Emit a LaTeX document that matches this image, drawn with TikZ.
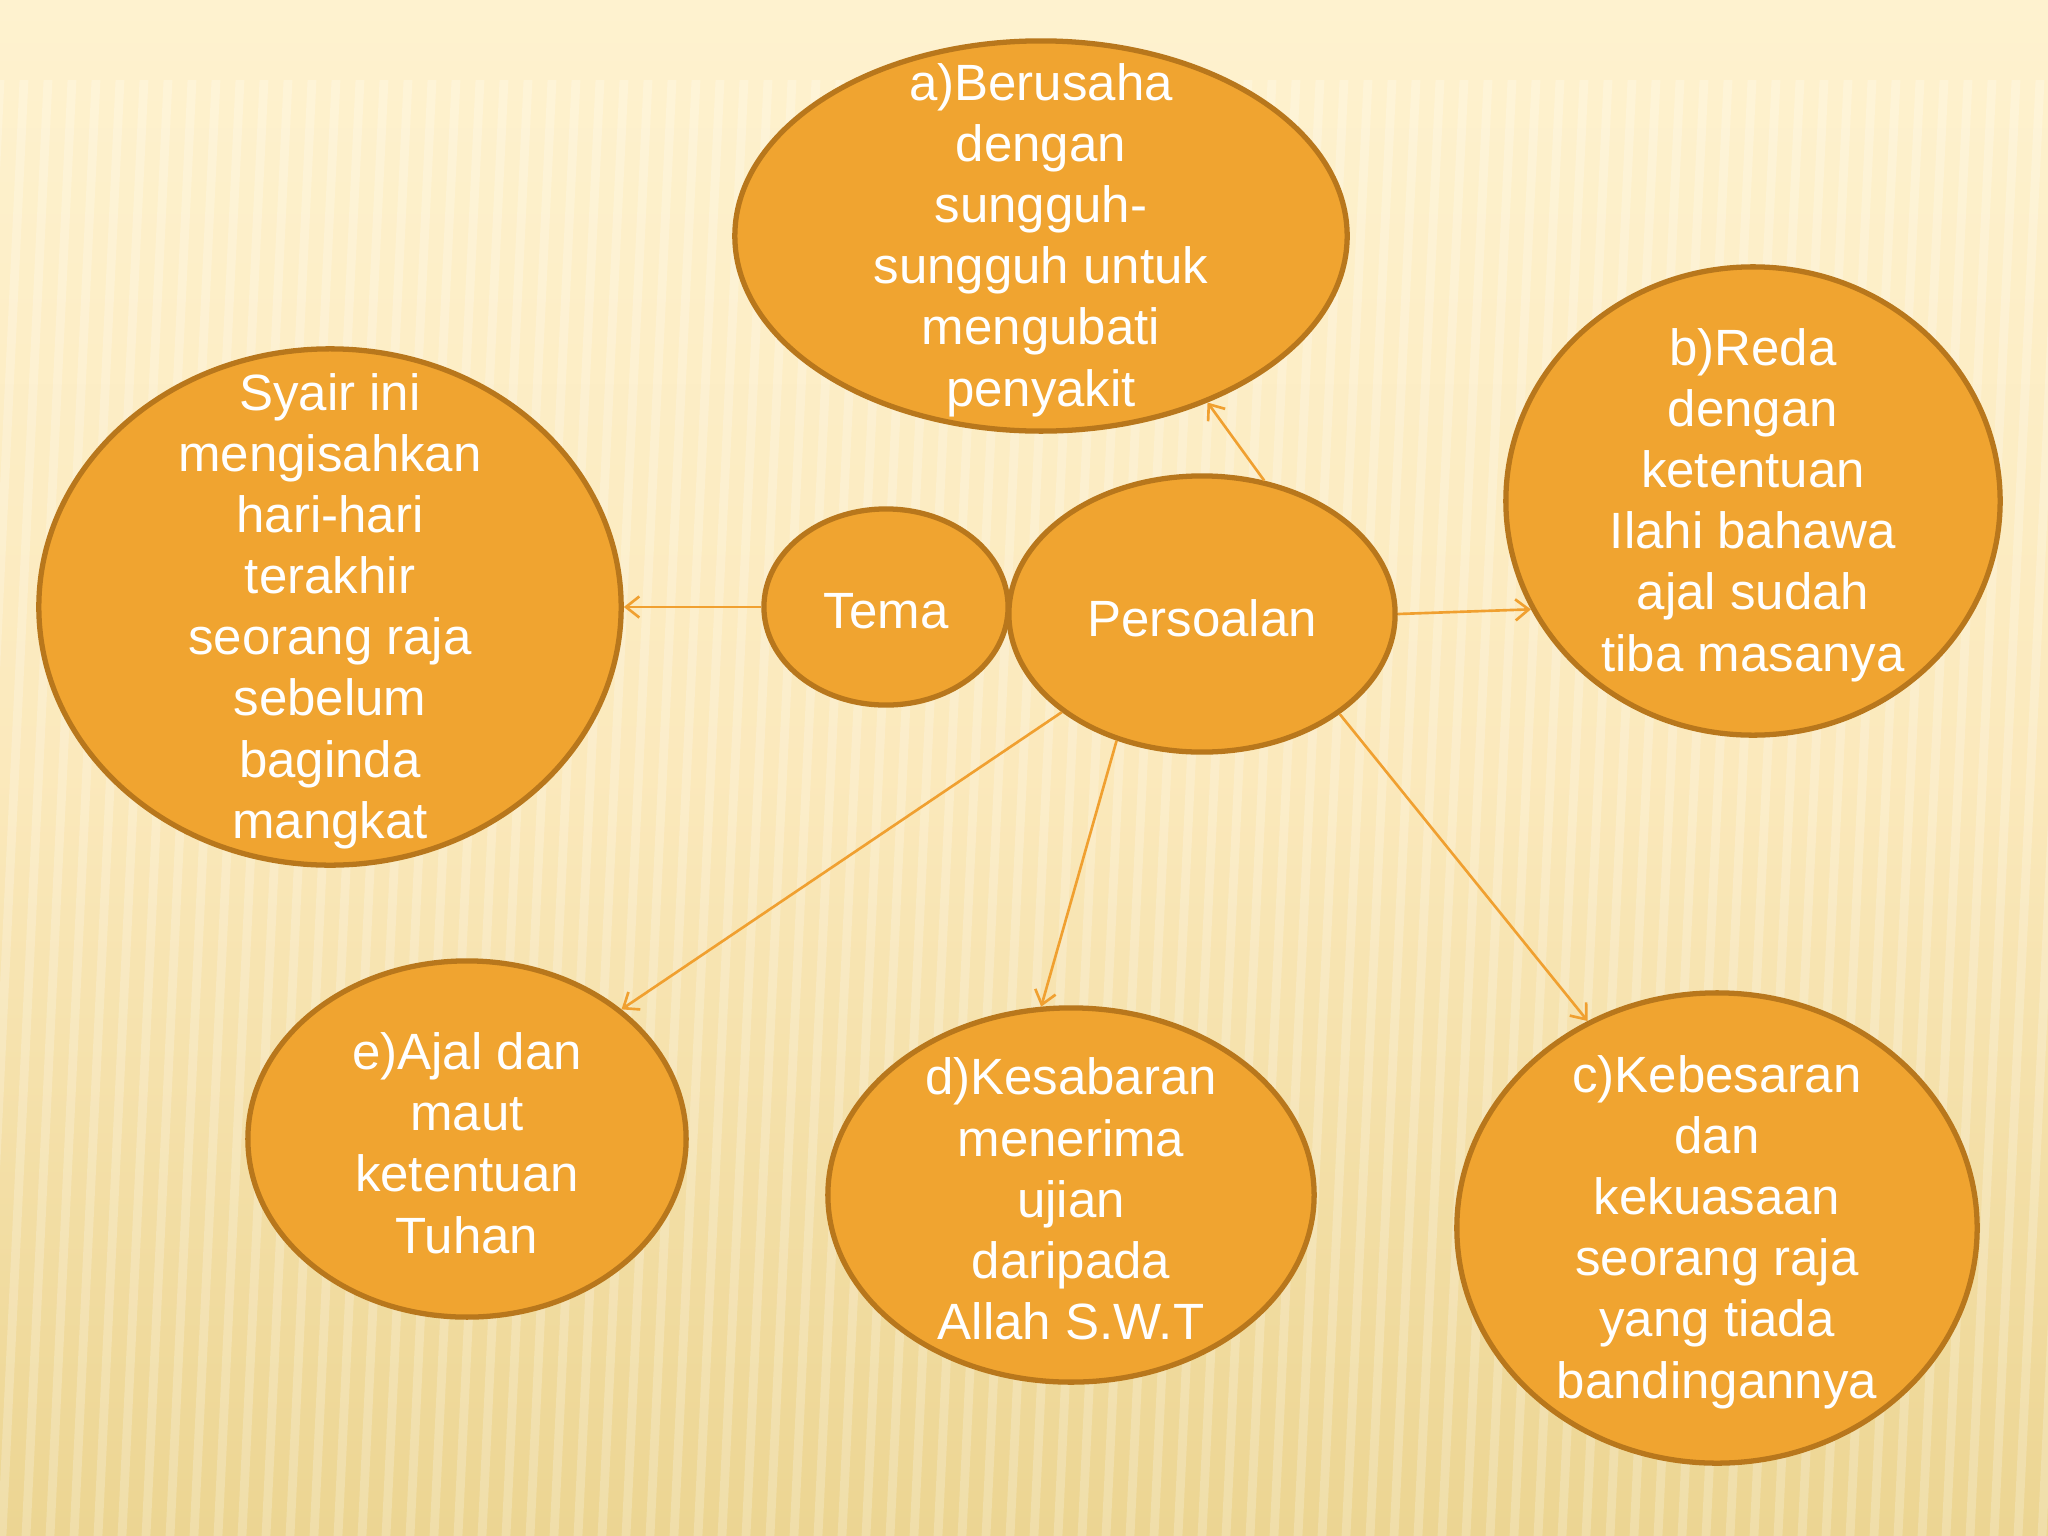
\documentclass[tikz,border=0pt]{standalone}
\usepackage{fontspec}
\setmainfont{Liberation Sans}
\usetikzlibrary{shapes,arrows.meta,positioning}

\definecolor{bubblefill}{HTML}{F0A430}
\definecolor{bubbleedge}{HTML}{B8771C}
\definecolor{linkcol}{HTML}{F0A030}
\definecolor{bgtop}{HTML}{FEF2CF}
\definecolor{bgmid}{HTML}{FBE9BC}
\definecolor{bgbot}{HTML}{ECD592}

\begin{document}
\begin{tikzpicture}[x=0.01cm,y=-0.01cm,>={Straight Barb[length=3.8pt,width=6pt]},
bubble/.style={ellipse,draw=bubbleedge,line width=1.5pt,fill=bubblefill,inner sep=0pt},
txt/.style={text=white,align=center,inner sep=0pt,yshift=-0.04cm,font=\fontsize{14.5}{17.4}\selectfont},
link/.style={->,draw=linkcol,line width=0.75pt}]
\useasboundingbox (0,0) rectangle (2048,1536);
% background
\shade[top color=bgtop,bottom color=bgbot,middle color=bgmid] (0,0) rectangle (2048,1536);
\begin{scope}
\clip (0,80) rectangle (2048,1536);
\foreach \i in {0,...,95}
  \draw[white,opacity=0.22,line width=2.5pt] (\i*24,80) -- (\i*24-70,1536);
\end{scope}

% bubbles
\node[bubble,minimum width=6.12cm,minimum height=3.9cm,
  label={[txt]center:{a)Berusaha\\dengan\\sungguh-\\sungguh untuk\\mengubati\\penyakit}}] (a) at (1041,236) {};
\node[bubble,minimum width=4.94cm,minimum height=4.68cm,
  label={[txt]center:{b)Reda\\dengan\\ketentuan\\Ilahi bahawa\\ajal sudah\\tiba masanya}}] (b) at (1753,501) {};
\node[bubble,minimum width=5.82cm,minimum height=5.16cm,
  label={[txt]center:{Syair ini\\mengisahkan\\hari-hari\\terakhir\\seorang raja\\sebelum\\baginda\\mangkat}}] (syair) at (330,607) {};
\node[bubble,minimum width=2.44cm,minimum height=1.96cm,
  label={[txt]center:{Tema}}] (tema) at (886,607) {};
\node[bubble,minimum width=3.86cm,minimum height=2.76cm,
  label={[txt]center:{Persoalan}}] (pers) at (1202,614) {};
\node[bubble,minimum width=4.38cm,minimum height=3.56cm,
  label={[txt]center:{e)Ajal dan\\maut\\ketentuan\\Tuhan}}] (e) at (467,1139) {};
\node[bubble,minimum width=4.86cm,minimum height=3.74cm,
  label={[txt]center:{d)Kesabaran\\menerima\\ujian\\daripada\\Allah S.W.T}}] (d) at (1071,1195) {};
\node[bubble,minimum width=5.2cm,minimum height=4.7cm,
  label={[txt]center:{c)Kebesaran\\dan\\kekuasaan\\seorang raja\\yang tiada\\bandingannya}}] (c) at (1717,1228) {};

% links
\draw[link] (tema) -- (syair);
\draw[link] (pers.65) -- (a.315);
\draw[link] (pers.0) -- (b.206);
\draw[link] (pers.215) -- (e.40);
\draw[link] (pers.236) -- (d.99);
\draw[link] (pers.324) -- (c.122);
\end{tikzpicture}
\end{document}
